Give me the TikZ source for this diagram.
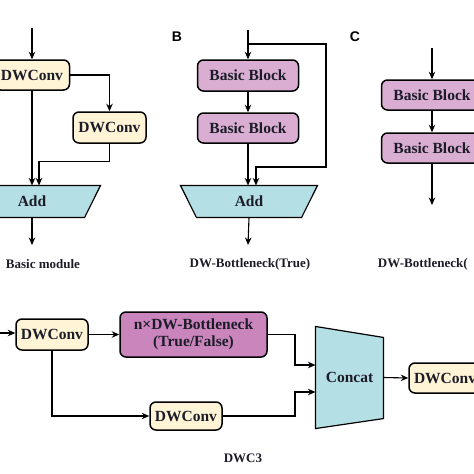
\documentclass[tikz,border=0pt]{standalone}
\usepackage{fontspec}
\setmainfont{Liberation Serif}
\setsansfont{Liberation Sans}
\usepackage{tikz}
\usetikzlibrary{arrows.meta, positioning, calc, backgrounds}

\definecolor{dwfill}{HTML}{FFF4D6}
\definecolor{blockfill}{HTML}{D9AED2}
\definecolor{neckfill}{HTML}{C985BC}
\definecolor{mergefill}{HTML}{B4DFE5}
\definecolor{inkcol}{HTML}{1C1C28}

\begin{document}
\begin{tikzpicture}[x=1pt, y=-1pt, >={Stealth[length=7.5pt,width=6.5pt]},
    line width=1.1pt,
    box/.style={draw=black, line width=1.5pt, rounded corners=6pt, inner sep=0pt,
      text=inkcol, font=\bfseries\fontsize{15.5}{17}\selectfont, align=center},
    dwbox/.style={box, fill=dwfill, minimum width=73pt, minimum height=30pt},
    blockbox/.style={box, fill=blockfill, minimum width=101pt, minimum height=30pt},
    neckbox/.style={box, fill=neckfill, minimum width=147pt, minimum height=45pt},
    merge/.style={inner sep=0pt, text=inkcol, font=\bfseries\fontsize{15.5}{17}\selectfont},
    mergeshape/.style={draw=black, line width=1.2pt, fill=mergefill},
    caption/.style={font=\bfseries\fontsize{13}{15}\selectfont, text=inkcol},
    panel/.style={font=\sffamily\bfseries\fontsize{14}{16}\selectfont}]
  \clip (0,0) rectangle (474,474);
  % A: basic module
  \coordinate (ina) at (32,28);
  \node[dwbox, minimum width=75pt] (dwa1) at (32,75) {DWConv};
  \node[dwbox, minimum height=31pt] (dwa2) at (109.5,127.5) {DWConv};
  \node[merge, minimum width=136pt, minimum height=31pt] (adda) at (32,201.5) {Add};
  \coordinate (outa) at (32,245);
  \draw[->] (ina) -- (dwa1.north);
  \draw[->] (dwa1.east) -| (dwa2.north);
  \draw[->] (dwa1.south) -- (adda.north);
  \draw[->] (dwa2.south) |- ([xshift=7pt,yshift=24pt]adda.north) -- ([xshift=7pt]adda.north);
  \draw[->] (adda.south) -- (outa);
  \node[caption] (capa) at (43,264) {Basic module};
  % B: bottleneck with shortcut
  \node[panel] (labb) at (177,37) {B};
  \coordinate (inb) at (248,30);
  \node[blockbox, minimum height=31pt] (bb1) at (248,75.5) {Basic Block};
  \node[blockbox] (bb2) at (248,128) {Basic Block};
  \node[merge, minimum width=136pt, minimum height=31pt] (addb) at (249,201.5) {Add};
  \coordinate (outb) at (248,245);
  \draw[->] (inb) -- (bb1.north);
  \draw[->] (bb1.south) -- (bb2.north);
  \draw[->] (bb2.south) -- (bb2.south |- addb.north);
  \draw[->] (248,44) -- (326,44) -- (326,167) -| ([xshift=7pt]addb.north);
  \draw[->] (addb.south) -- (outb);
  \node[caption] (capb) at (250,264) {DW-Bottleneck(True)};
  % C: bottleneck without shortcut
  \node[panel] (labc) at (355,37) {C};
  \coordinate (inc) at (432,48);
  \node[blockbox] (bc1) at (432,95) {Basic Block};
  \node[blockbox] (bc2) at (432,148) {Basic Block};
  \coordinate (outc) at (432,205);
  \draw[->] (inc) -- (bc1.north);
  \draw[->] (bc1.south) -- (bc2.north);
  \draw[->] (bc2.south) -- (outc);
  \node[caption, anchor=west] (capc) at (374,264) {DW-Bottleneck(};
  % DWC3
  \coordinate (ind) at (0,333);
  \node[dwbox, minimum width=72pt, minimum height=31pt] (dwb1) at (52,334.5) {DWConv};
  \node[neckbox] (neck) at (193.5,334.5) {n\texttimes DW-Bottleneck\\(True/False)};
  \node[dwbox, minimum width=72pt, minimum height=28pt] (dwb2) at (186,416) {DWConv};
  \node[merge, minimum width=67pt, minimum height=101pt] (concat) at (349.5,377.5) {Concat};
  \node[dwbox, minimum width=72pt] (dwb3) at (445,378) {DWConv};
  \draw[->] (ind) -- (ind -| dwb1.west);
  \draw[->] (dwb1.east) -- (dwb1.east -| neck.west);
  \draw[->] (neck.east) -- (295,334.5) |- ([yshift=12.5pt]concat.west);
  \draw[->] (dwb1.south) |- (dwb2.west);
  \draw[->] (dwb2.east) -- (295,416) |- ([yshift=-14.5pt]concat.west);
  \draw[->] (concat.east) -- (dwb3.west);
  \node[caption] (capd) at (243,458) {DWC3};
  % merge shapes behind their labels
  \begin{scope}[on background layer]
    \draw[mergeshape] (adda.north west) -- (adda.north east)
      -- ([xshift=-16pt]adda.south east) -- ([xshift=16pt]adda.south west) -- cycle;
    \draw[mergeshape] (addb.north west) -- (addb.north east)
      -- ([xshift=-16pt]addb.south east) -- ([xshift=16pt]addb.south west) -- cycle;
    \draw[mergeshape] (concat.north west) -- ([yshift=-11pt]concat.north east)
      -- ([yshift=10pt]concat.south east) -- (concat.south west) -- cycle;
  \end{scope}
\end{tikzpicture}
\end{document}
